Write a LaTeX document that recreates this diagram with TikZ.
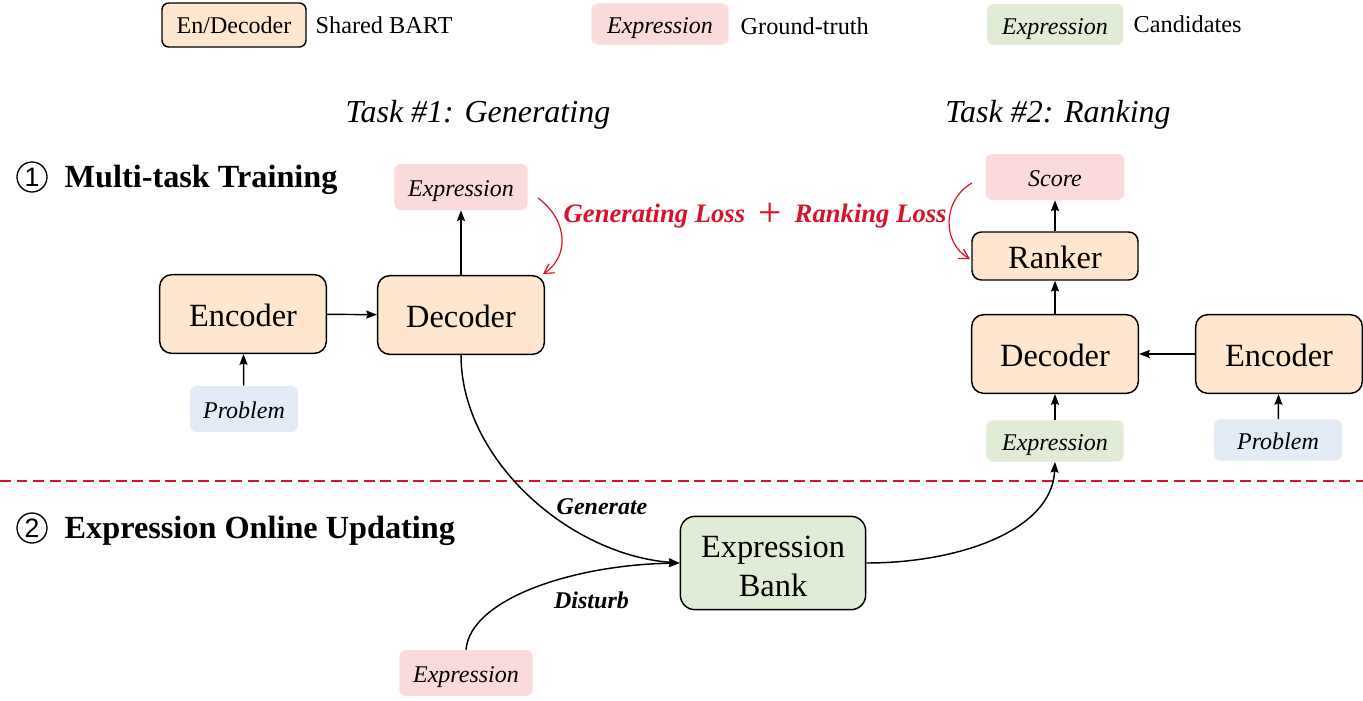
\documentclass[tikz,border=0pt]{standalone}
\usepackage{fontspec}
\setmainfont{Liberation Serif}
\usetikzlibrary{arrows.meta}
\definecolor{orangebox}{HTML}{FEE7CE}
\definecolor{pinkbox}{HTML}{FBDADC}
\definecolor{greenbox}{HTML}{E0ECD5}
\definecolor{bluebox}{HTML}{E2EBF6}
\definecolor{lossred}{HTML}{D7132A}
\begin{document}
\begin{tikzpicture}[x=0.75pt,y=-0.75pt,
 box/.style={draw=black,line width=1.1pt,rounded corners=9pt,fill=orangebox,minimum width=125pt,minimum height=59pt,inner sep=0pt,text height=18pt,text depth=0pt,font=\fontsize{24.3}{24.3}\selectfont},
 tag/.style={rounded corners=5pt,inner sep=0pt,text height=14.5pt,text depth=0pt,font=\itshape\fontsize{18}{18}\selectfont},
 pink/.style={tag,fill=pinkbox},
 green/.style={tag,fill=greenbox},
 blue/.style={tag,fill=bluebox},
 head/.style={font=\bfseries\fontsize{24.2}{24.2}\selectfont,anchor=west},
 task/.style={font=\itshape\fontsize{24}{24}\selectfont},
 legend/.style={font=\fontsize{18.2}{18.2}\selectfont,anchor=west},
 num/.style={draw=black,line width=1pt,circle,minimum size=22.5pt,inner sep=0pt,font=\fontsize{20}{20}\selectfont\fontspec{Liberation Sans}},
 arr/.style={draw=black,line width=1.1pt,-{Stealth[length=8pt,width=6pt,inset=1pt]}},
 red arr/.style={draw=lossred,line width=0.9pt,-{Straight Barb[length=7pt,width=8pt]}},
 loss/.style={text=lossred,font=\bfseries\itshape\fontsize{20}{20}\selectfont},
 lab/.style={font=\bfseries\itshape\fontsize{18}{18}\selectfont}]
\useasboundingbox (0,0) rectangle (1363,700);
% legend
\node[box,minimum width=108pt,minimum height=33pt,rounded corners=5pt,text height=13pt,font=\fontsize{18}{18}\selectfont] (legA) at (234,25) {En/Decoder};
\node[legend] (legAt) at (311,25) {Shared BART};
\node[pink,minimum width=103pt,minimum height=31pt] (legB) at (660,24) {Expression};
\node[legend] (legBt) at (736,26) {Ground-truth};
\node[green,minimum width=102pt,minimum height=31pt] (legC) at (1055,24.5) {Expression};
\node[legend] (legCt) at (1129,24) {Candidates};
% tasks
\node[task] (t1) at (478,115) {Task \#1: Generating};
\node[task] (t2) at (1058,115) {Task \#2: Ranking};
% headings
\node[num] (c1) at (32,177) {1};
\node[head] (h1) at (60,180) {Multi-task Training};
\node[num] (c2) at (32,528) {2};
\node[head] (h2) at (60,531) {Expression Online Updating};
% left task
\node[box] (enc1) at (243,314) {Encoder};
\node[box] (dec1) at (461,315) {Decoder};
\node[pink,minimum width=100pt,minimum height=34.5pt] (exp1) at (461,187) {Expression};
\node[blue,minimum width=81pt,minimum height=34.5pt] (prob1) at (244,409) {Problem};
\draw[arr] (prob1) -- (enc1);
\draw[arr] (enc1) -- (dec1);
\draw[arr] (dec1) -- (exp1);
% right task
\node[pink,minimum width=104pt,minimum height=34.5pt] (score) at (1055,177) {Score};
\node[box,minimum width=124.5pt,minimum height=36pt,rounded corners=7pt] (rank) at (1055,256) {Ranker};
\node[box] (dec2) at (1055,354) {Decoder};
\node[box] (enc2) at (1279,354) {Encoder};
\node[green,minimum width=103pt,minimum height=31pt] (exp2) at (1055,441) {Expression};
\node[blue,minimum width=96pt,minimum height=31pt] (prob2) at (1278,440) {Problem};
\draw[arr] (rank) -- (score);
\draw[arr] (dec2) -- (rank);
\draw[arr] (exp2) -- (dec2);
\draw[arr] (enc2) -- (dec2);
\draw[arr] (prob2) -- (enc2);
% loss
\node[loss,anchor=west] (l1) at (559,216) {Generating Loss};
\node[font=\fontsize{31}{31}\selectfont,text=lossred] (plus) at (770,215) {+};
\node[loss,anchor=west] (l2) at (790,216) {Ranking Loss};
\coordinate (ra) at (538,198);
\coordinate (rae) at (543,274);
\coordinate (rb) at (972,183);
\coordinate (rbe) at (970,259);
\draw[red arr] (ra) .. controls (570,222) and (568,258) .. (rae);
\draw[red arr] (rb) .. controls (942,200) and (942,243) .. (rbe);
% divider
\coordinate (d1) at (0,481);
\coordinate (d2) at (1363,481);
\draw[lossred,line width=1.7pt,dash pattern=on 8.2pt off 4.2pt] (d1) -- (d2);
% bank
\node[box,fill=greenbox,minimum width=139pt,minimum height=70pt,rounded corners=11pt,align=center,text height=50pt,font=\fontsize{24.3}{29}\selectfont] (bank) at (773,563) {Expression\\Bank};
\node[pink,minimum width=100pt,minimum height=34.5pt] (exp3) at (466,673) {Expression};
\draw[arr] (dec1.south) .. controls (461,460) and (570,555) .. (bank.west);
\draw[arr] (exp3.north) .. controls (470,600) and (570,565) .. (bank.west);
\draw[arr] (bank.east) .. controls (960,563) and (1052,530) .. (exp2.south);
\node[lab] (g) at (602,507) {Generate};
\node[lab] (d) at (591.5,600) {Disturb};
\end{tikzpicture}
\end{document}
